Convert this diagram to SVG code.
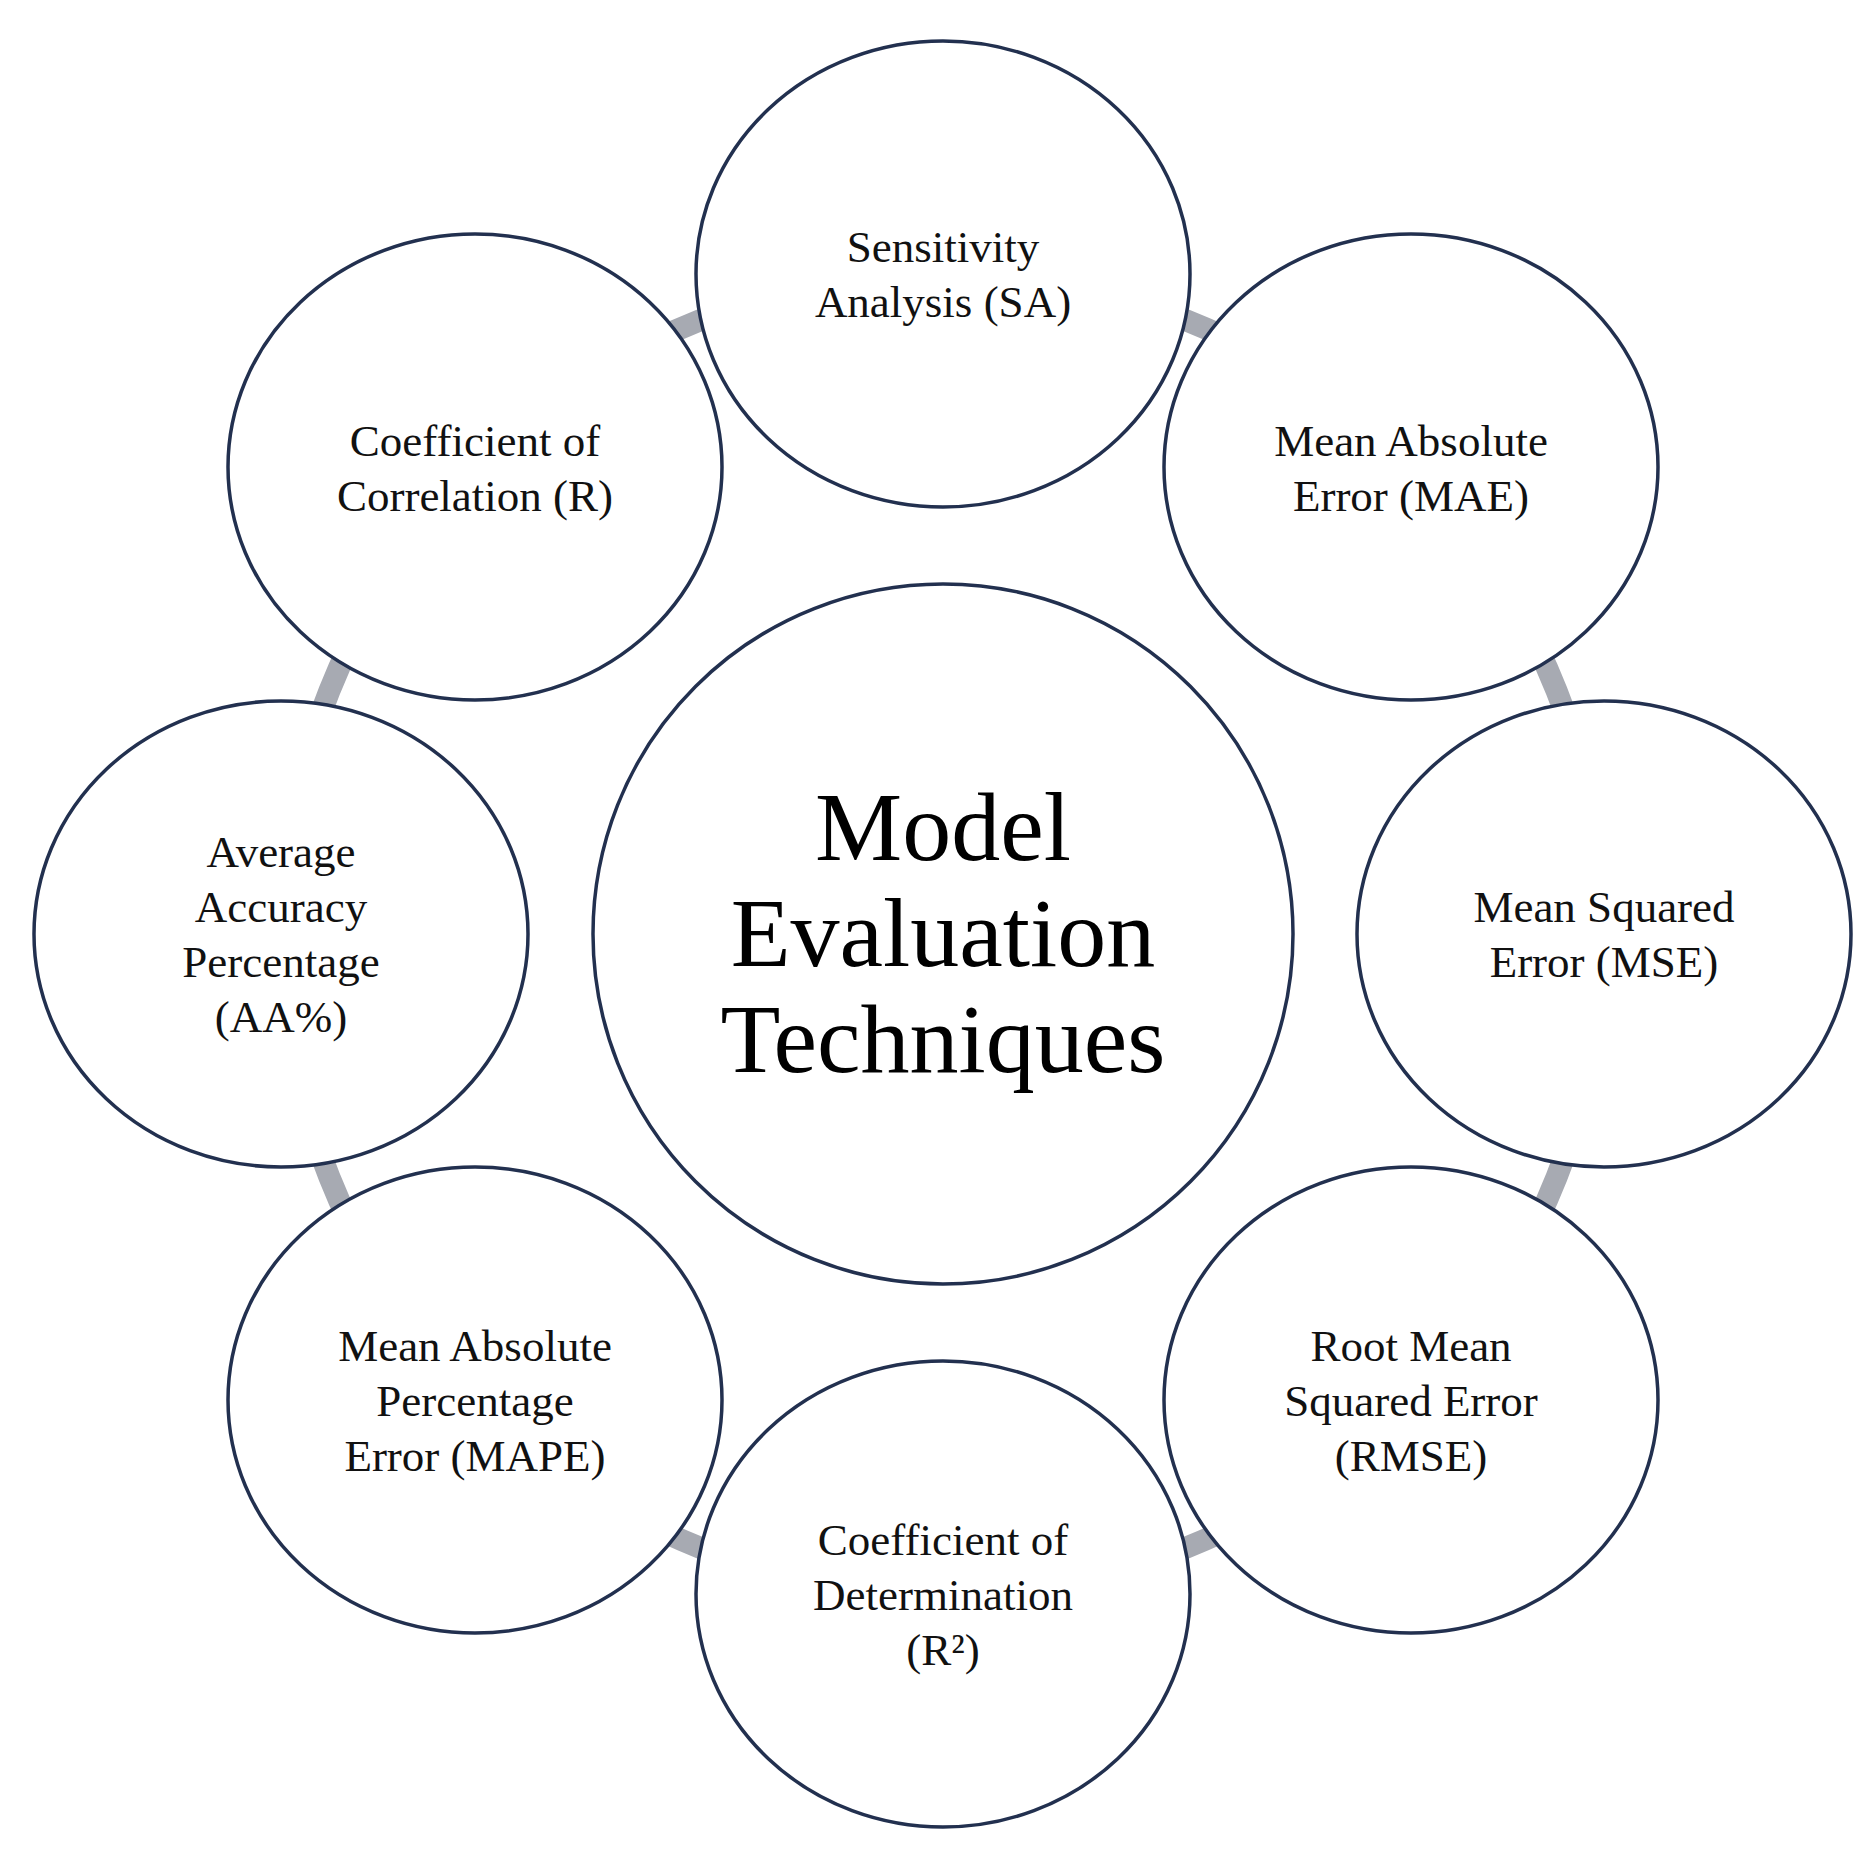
<svg xmlns="http://www.w3.org/2000/svg" width="1872" height="1855" viewBox="0 0 1872 1855">
<style>
.n{fill:#fff;stroke:#22304f;stroke-width:3.5}
.t{font-family:"Liberation Serif",serif;font-size:45px;fill:#111;text-anchor:middle}
.c{font-family:"Liberation Serif",serif;font-size:98px;fill:#000;text-anchor:middle}
</style>
<rect width="1872" height="1855" fill="#fff"/>
<g id="connectors"><circle cx="943" cy="934" r="660" fill="none" stroke="#a7aab2" stroke-width="22"/></g>
<g id="center"><circle class="n" cx="943" cy="934" r="350"/><text class="c"><tspan x="943" y="860">Model</tspan><tspan x="943" y="966">Evaluation</tspan><tspan x="943" y="1072">Techniques</tspan></text></g>
<g id="sa"><ellipse class="n" cx="943" cy="274" rx="247" ry="233"/><text class="t"><tspan x="943" y="262">Sensitivity</tspan><tspan x="943" y="317">Analysis (SA)</tspan></text></g>
<g id="mae"><ellipse class="n" cx="1411" cy="467" rx="247" ry="233"/><text class="t"><tspan x="1411" y="456">Mean Absolute</tspan><tspan x="1411" y="511">Error (MAE)</tspan></text></g>
<g id="mse"><ellipse class="n" cx="1604" cy="934" rx="247" ry="233"/><text class="t"><tspan x="1604" y="922">Mean Squared</tspan><tspan x="1604" y="977">Error (MSE)</tspan></text></g>
<g id="rmse"><ellipse class="n" cx="1411" cy="1400" rx="247" ry="233"/><text class="t"><tspan x="1411" y="1361">Root Mean</tspan><tspan x="1411" y="1416">Squared Error</tspan><tspan x="1411" y="1471">(RMSE)</tspan></text></g>
<g id="r2"><ellipse class="n" cx="943" cy="1594" rx="247" ry="233"/><text class="t"><tspan x="943" y="1555">Coefficient of</tspan><tspan x="943" y="1610">Determination</tspan><tspan x="943" y="1665">(R²)</tspan></text></g>
<g id="mape"><ellipse class="n" cx="475" cy="1400" rx="247" ry="233"/><text class="t"><tspan x="475" y="1361">Mean Absolute</tspan><tspan x="475" y="1416">Percentage</tspan><tspan x="475" y="1471">Error (MAPE)</tspan></text></g>
<g id="aa"><ellipse class="n" cx="281" cy="934" rx="247" ry="233"/><text class="t"><tspan x="281" y="867">Average</tspan><tspan x="281" y="922">Accuracy</tspan><tspan x="281" y="977">Percentage</tspan><tspan x="281" y="1032">(AA%)</tspan></text></g>
<g id="r"><ellipse class="n" cx="475" cy="467" rx="247" ry="233"/><text class="t"><tspan x="475" y="456">Coefficient of</tspan><tspan x="475" y="511">Correlation (R)</tspan></text></g>
</svg>
